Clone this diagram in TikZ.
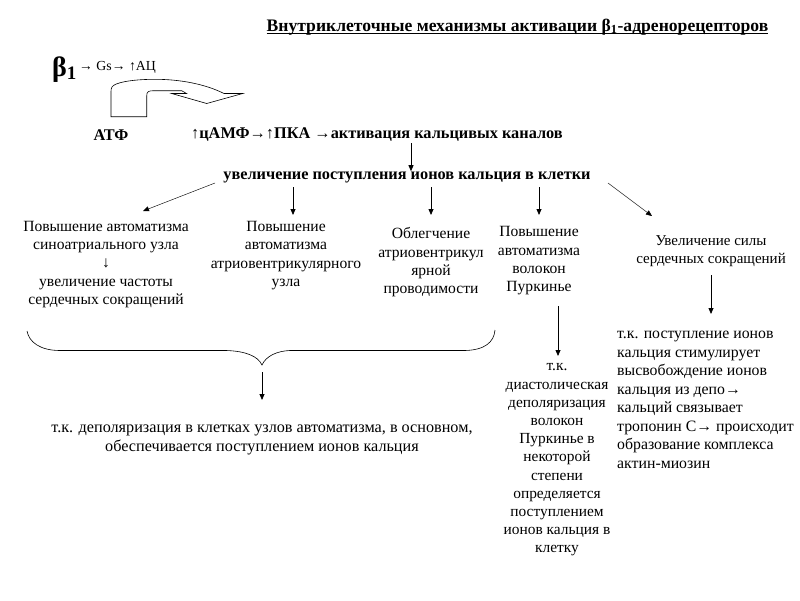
\documentclass[tikz,border=0pt]{standalone}
\usepackage{fontspec}
\setmainfont{Liberation Serif}
\usetikzlibrary{arrows.meta}
\tikzset{
  txt/.style={inner sep=0pt, align=center, font=\fontsize{15.6}{18.3}\selectfont},
  btxt/.style={inner sep=0pt, align=center, font=\fontsize{16.3}{18.3}\selectfont\bfseries},
  arr/.style={-{Triangle[length=6pt,width=5pt]}, line width=0.8pt},
  tarr/.style={-{Triangle[length=6pt,width=5pt]}, line width=0.45pt},
}
\begin{document}
\begin{tikzpicture}[x=1pt,y=-1pt]
\useasboundingbox[fill=white] (0,0) rectangle (800,600);
% title
\node[inner sep=0pt, font=\fontsize{17.6}{18}\selectfont\bfseries, anchor=base] (title) at (517.5,31) {Внутриклеточные механизмы активации β\textsubscript{1}-адренорецепторов};
\draw[line width=0.9pt] ([yshift=-2.4pt]title.base west) -- ([yshift=-2.4pt]title.base east);
% beta1 line
\node[inner sep=0pt, font=\fontsize{28}{28}\selectfont\bfseries, anchor=base west] (beta) at (52,76) {β\raisebox{-3pt}{\fontsize{19}{19}\selectfont 1}};
\node[inner sep=0pt, font=\fontsize{13.8}{14}\selectfont, anchor=base west] (gs) at (79,70.5) {→ Gs→ ↑АЦ};
% block arrow
\draw[line width=0.6pt] (111,116.7) -- (146.7,116.7) -- (146.7,96)
  .. controls (146.7,91.5) and (148.5,90.7) .. (154,90.7)
  -- (181.7,90.7) -- (186.5,93.5) -- (171.7,93.5) -- (206.7,103.5) -- (242.7,93.5) -- (224,93.5)
  .. controls (205,84) and (180,79.3) .. (155,79.3)
  .. controls (130,79.3) and (114,83) .. (112,87)
  .. controls (111,88.5) and (111,90) .. (111,92) -- cycle;
% ATP line
\node[btxt, anchor=center] (atf) at (111,135) {АТФ};
\node[btxt, anchor=west] (camp) at (191,135) {↑цАМФ→↑ПКА →активация кальцивых каналов};
\coordinate (c1) at (411,143);
\node[btxt] (inc) at (407,177) {увеличение поступления ионов кальция в клетки};
\draw[arr] (c1) -- (inc.north -| c1);
% blocks
\node[txt] (b1) at (106,264.5) {Повышение автоматизма\\синоатриального узла\\↓\\увеличение частоты\\сердечных сокращений};
\node[txt] (b2) at (286,255.5) {Повышение\\автоматизма\\атриовентрикулярного\\узла};
\node[txt] (b3) at (431,262.5) {Облегчение\\атриовентрикул\\ярной\\проводимости};
\node[txt] (b4) at (539,261) {Повышение\\автоматизма\\волокон\\Пуркинье};
\node[txt, font=\fontsize{15}{18.3}\selectfont] (b5) at (711,251) {Увеличение силы\\сердечных сокращений};
% arrows from header
\coordinate (h1) at (215,183);
\coordinate (e1) at (143,211);
\draw[tarr] (h1) -- (e1);
\coordinate (h2) at (293,187);
\coordinate (e2) at (293,215);
\draw[arr] (h2) -- (e2);
\coordinate (h3) at (431,187);
\coordinate (e3) at (431,215);
\draw[arr] (h3) -- (e3);
\coordinate (h4) at (539,187);
\coordinate (e4) at (539,215);
\draw[arr] (h4) -- (e4);
\coordinate (h5) at (608,183);
\coordinate (e5) at (652,216);
\draw[tarr] (h5) -- (e5);
% brace
\coordinate (btip) at (262,365);
\draw[line width=0.6pt] (27,331) .. controls (29,342) and (40,350.5) .. (60,350.5)
  -- (226,350.5) .. controls (245,351) and (258,356) .. (btip)
  .. controls (266,356) and (277,351) .. (290,350.5)
  -- (465,350.5) .. controls (485,350) and (494,342) .. (495,330);
\coordinate (bs) at (262,372);
\node[txt, font=\fontsize{16.2}{18.3}\selectfont] (bt) at (262,440) {т.к. деполяризация в клетках узлов автоматизма, в основном,\\обеспечивается поступлением ионов кальция};
\draw[arr] (bs) -- (262,400);
% Purkinje explanation
\coordinate (ps) at (558,306);
\node[txt, font=\fontsize{15.4}{18.2}\selectfont] (pt) at (557,460) {т.к.\\диастолическая\\деполяризация\\волокон\\Пуркинье в\\некоторой\\степени\\определяется\\поступлением\\ионов кальция в\\клетку};
\draw[arr] (ps) -- (558,356);
% force explanation
\coordinate (fs) at (711,275);
\draw[arr] (fs) -- (711,314);
\node[txt, font=\fontsize{15.8}{18.5}\selectfont, align=left, anchor=west] (ft) at (617,400) {т.к. поступление ионов\\кальция стимулирует\\высвобождение ионов\\кальция из депо→\\кальций связывает\\тропонин С→ происходит\\образование комплекса\\актин-миозин};
\end{tikzpicture}
\end{document}
